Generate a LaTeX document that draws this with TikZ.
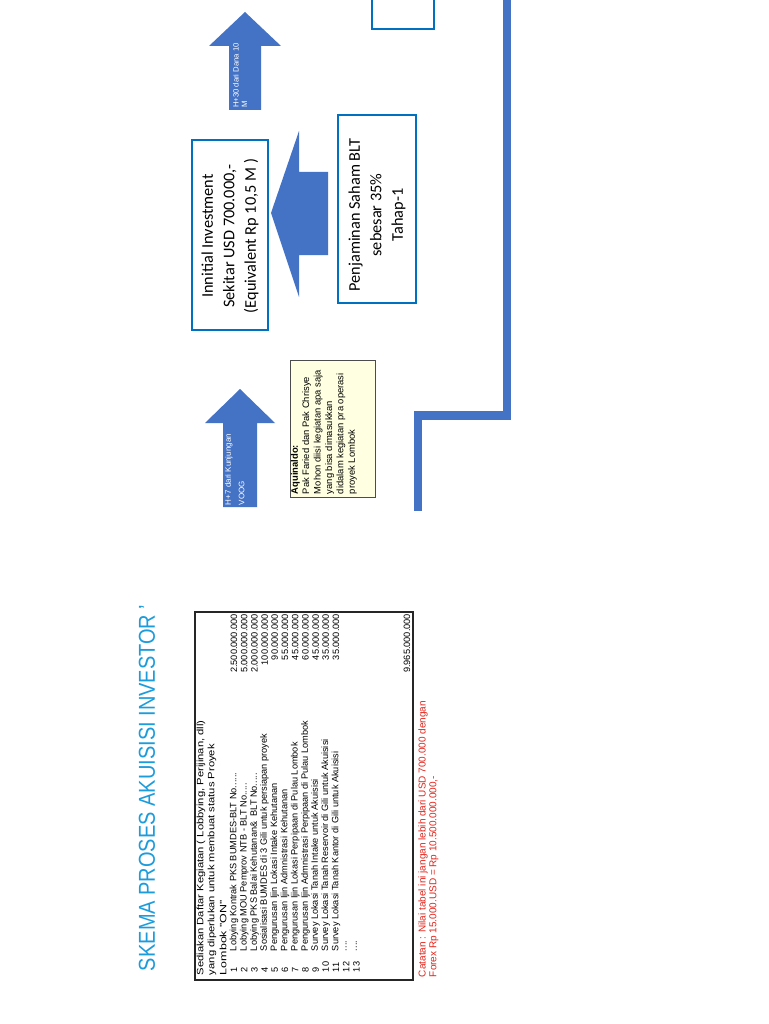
\documentclass[tikz,border=0pt]{standalone}
\usepackage{fontspec}
\setmainfont{Liberation Sans}
\newfontfamily\calib{Carlito}
\definecolor{arrowblue}{HTML}{4472C4}
\definecolor{boxblue}{HTML}{0070C0}
\definecolor{titleblue}{HTML}{1C9CDC}
\definecolor{notered}{HTML}{E2231A}
\definecolor{noteyellow}{HTML}{FFFFE1}
\tikzset{
  rot/.style={rotate=90, inner sep=0pt, outer sep=0pt},
  tabtext/.style={rot, anchor=west, font=\fontsize{9.2}{10}\selectfont},
  tabval/.style={rot, anchor=east, font=\fontsize{9.2}{10}\selectfont},
  redtext/.style={rot, anchor=west, text=notered, font=\fontsize{10}{11}\selectfont},
  bluebox/.style={draw=boxblue, line width=2.5pt, fill=white},
  blockarrow/.style={fill=arrowblue},
  arrowtext/.style={rot, anchor=north west, align=left, text=white},
  boxtext/.style={rot, align=center, font=\calib\fontsize{16.3}{21.5}\selectfont}
}
\newcommand{\widen}[1]{\scalebox{1.22}[1]{#1}}
\begin{document}
\begin{tikzpicture}[x=1pt,y=-1pt]
\useasboundingbox[fill=white] (0,0) rectangle (768,1024);

% L-shaped blue line
\draw[arrowblue, line width=8.5pt, line join=miter] (507,-5) -- (507,415.5) -- (418,415.5) -- (418,511);

% partial box at top right
\draw[bluebox] (372,-5) rectangle (434,29);

% title
\node[rot, anchor=west, text=titleblue, font=\fontsize{20}{22}\selectfont] (title) at (147,971)
  {\scalebox{1}[1.15]{SKEMA PROSES AKUISISI INVESTOR '}};

% table box
\draw[line width=1.3pt, draw=black!85] (195,612) rectangle (413,980);
\node[tabtext] (h1) at (201,975) {\widen{Sediakan Daftar Kegiatan ( Lobbying, Perijinan, dll)}};
\node[tabtext] (h2) at (212,975) {\widen{yang diperlukan untuk membuat status Proyek}};
\node[tabtext] (h3) at (223,975) {\scalebox{1.35}[1]{Lombok "ON"}};
\foreach \n/\t/\v [count=\i] in {
  1/{Lobying Kontrak PKS BUMDES-BLT No......}/{2.500.000.000},
  2/{Lobying MOU Pemprov NTB - BLT No.....}/{5.000.000.000},
  3/{Lobying PKS Balai Kehutanan\&\ \ BLT No.....}/{2.000.000.000},
  4/{Sosialisasi BUMDES di 3 Gili untuk persiapan proyek}/{100.000.000},
  5/{Pengurusan Ijin Lokasi Intake Kehutanan}/{90.000.000},
  6/{Pengurusan Ijin Admnistrasi Kehutanan}/{55.000.000},
  7/{Pengurusan Ijin Lokasi Perpipaan di Pulau Lombok}/{45.000.000},
  8/{Pengurusan Ijin Admnistrasi Perpipaan di Pulau Lombok}/{60.000.000},
  9/{Survey Lokasi Tanah Intake untuk Akuisisi}/{45.000.000},
  10/{Survey Lokasi Tanah Reservoir di Gili untuk Akuisisi}/{35.000.000},
  11/{Survey Lokasi Tanah Kantor di Gili untuk Akuisisi}/{35.000.000},
  12/{....}/{},
  13/{....}/{}}{
  \pgfmathsetmacro{\xx}{234+10.2*(\i-1)}
  \node[tabtext] (n\i) at (\xx,972) {\n};
  \node[tabtext] (t\i) at (\xx,951) {\t};
  \node[tabval] (v\i) at (\xx,614) {\v};
}
\node[tabval] (total) at (407,614) {9.965.000.000};

% red note
\node[redtext] (c1) at (423,977) {Catatan : Nilai tabel ini jangan lebih dari USD 700.000 dengan};
\node[redtext] (c2) at (434,977) {Forex Rp 15.000.USD = Rp 10.500.000.000,-};

% H+7 arrow
\fill[blockarrow] (240,389) -- (275,423) -- (257,423) -- (257,507) -- (223,507) -- (223,423) -- (205,423) -- cycle;
\node[arrowtext, font=\fontsize{8}{13.5}\selectfont] (h7) at (225,505) {H+7 dari Kunjungan\\VOOG};

% H+30 arrow
\fill[blockarrow] (245,12) -- (281,46) -- (261,46) -- (261,110) -- (229,110) -- (229,46) -- (209,46) -- cycle;
\node[arrowtext, font=\fontsize{7.7}{8.5}\selectfont] (h30) at (233,108) {H+30 dari Dana 10\\M};

% note box
\draw[fill=noteyellow, draw=black!70, line width=0.8pt] (290,360) rectangle (375,497);
\node[rot, anchor=north west, align=left, font=\fontsize{9.4}{11.4}\selectfont] (note) at (291,494)
  {\textbf{Aquinaldo:}\\Pak Faried dan Pak Chrisye\\Mohon diisi kegiatan apa saja\\yang bisa dimasukkan\\didalam kegiatan pra operasi\\proyek Lombok};

% big arrow from Penjaminan to Initial
\fill[blockarrow] (271,213) -- (299,131) -- (299,172) -- (328,172) -- (328,255) -- (299,255) -- (299,297) -- cycle;

% Initial investment box
\draw[bluebox] (192,140) rectangle (268,330);
\node[boxtext] (init) at (230,236) {Innitial Investment\\Sekitar USD 700.000,-\\(Equivalent Rp 10,5 M )};

% Penjaminan box
\draw[bluebox] (338,115) rectangle (416,303);
\node[boxtext] (penj) at (377,215) {Penjaminan Saham BLT\\sebesar 35\%\\Tahap-1};
\end{tikzpicture}
\end{document}
